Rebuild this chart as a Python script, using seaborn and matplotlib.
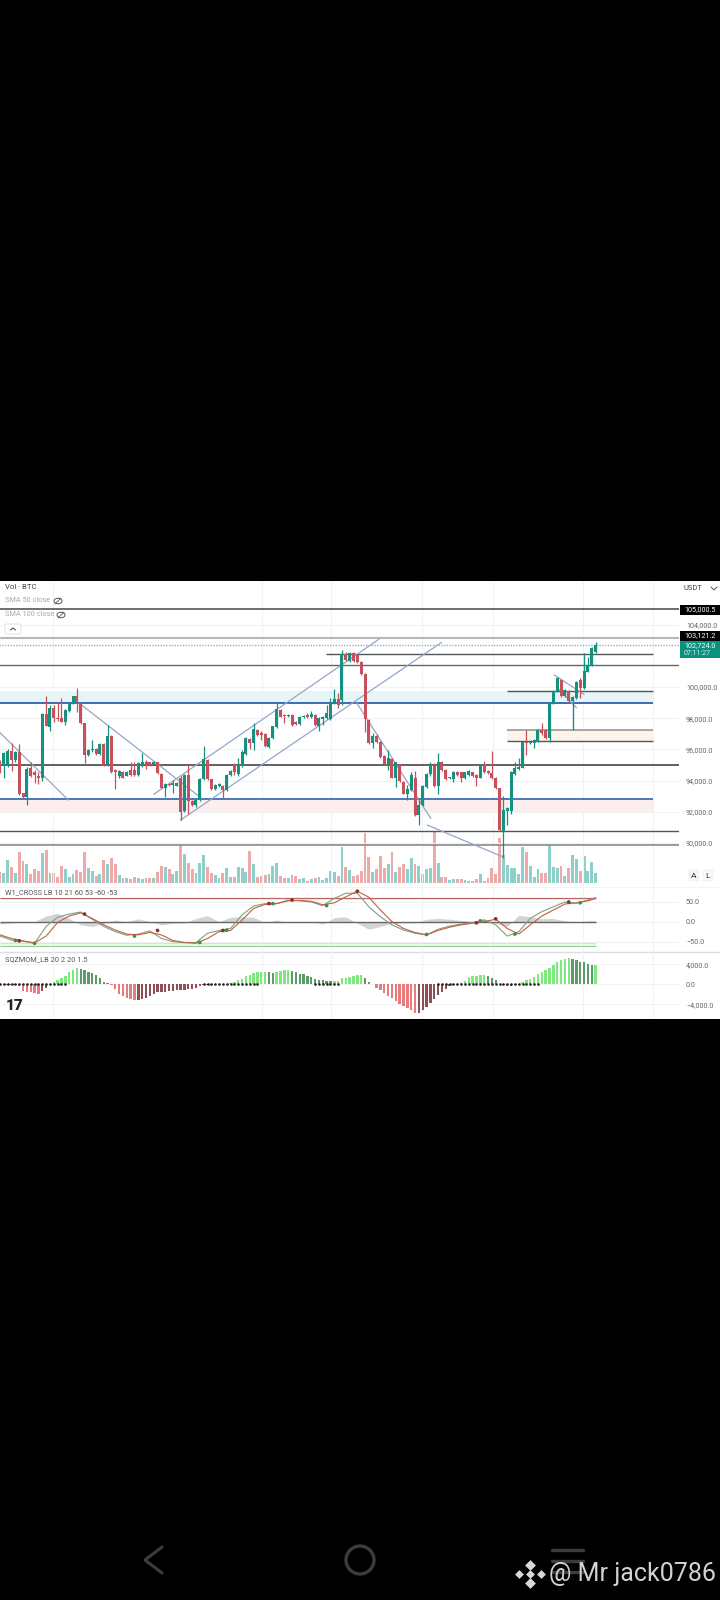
import numpy as np
import pandas as pd
import seaborn as sns
import matplotlib.pyplot as plt
from matplotlib.patches import Rectangle, Circle, Ellipse, FancyBboxPatch

# candles
opens = [95210, 95000, 95060, 95920, 95320, 95810, 93180, 92920, 94780, 94530,
         94310, 94140, 98270, 97460, 98630, 98030, 98030, 97780, 98480, 98950,
         99420, 98950, 97670, 95640, 95940, 96020, 95700, 96340, 95000, 96860,
         94680, 94290, 94570, 94310, 94680, 94680, 94360, 95000, 95210, 95170,
         95060, 95170, 94420, 93540, 93780, 93720, 93670, 94140, 92050, 94360,
         92710, 92430, 92750, 94100, 95320, 94080, 93460, 93650, 93630, 93370,
         94360, 95040, 94400, 94950, 95680, 96670, 96390, 97260, 97030, 96990,
         96170, 96710, 97410, 98550, 98200, 98160, 98200, 97780, 97610, 98100,
         98200, 98100, 98200, 97520, 97950, 97990, 97950, 98950, 99210, 99170,
         102090, 101670, 102160, 102050, 101580, 100830, 97880, 96390, 96880, 96490,
         95600, 95040, 95380, 94140, 95000, 93930, 93120, 93400, 94190, 91790,
         92430, 93610, 94400, 95000, 93650, 95210, 94680, 94140, 94100, 94570,
         94530, 94140, 94360, 94530, 94360, 94190, 95040, 94610, 94460, 94190,
         93500, 90720, 92050, 92050, 94400, 94740, 94830, 96490, 96390, 96390,
         96490, 97240, 97240, 96710, 98950, 99760, 100450, 99420, 99760, 99100,
         99270, 100450, 99910, 100980, 101410, 102220]
closes = [94780, 95750, 95920, 95320, 95850, 93160, 92920, 94740, 94290, 94360,
          94190, 98270, 97520, 98630, 97990, 97930, 97780, 98520, 98950, 99420,
          99020, 97670, 95640, 95960, 96020, 95700, 96340, 95000, 96860, 94530,
          94530, 94640, 94190, 94570, 94360, 94360, 95100, 95210, 95000, 95000,
          95170, 94460, 93540, 93780, 93720, 93820, 93870, 92010, 94360, 92710,
          92430, 92750, 94100, 95360, 94100, 93440, 93720, 93760, 93370, 94360,
          94610, 94530, 95000, 95850, 96750, 96390, 97310, 96920, 96920, 96220,
          96710, 97480, 98590, 98100, 98160, 98200, 97560, 97610, 98100, 98140,
          98100, 98270, 97560, 98030, 98100, 98350, 98950, 99210, 98840, 102090,
          101730, 102160, 101670, 101580, 100830, 97950, 96390, 96880, 96490, 95530,
          95040, 95430, 94190, 95170, 93970, 93160, 93460, 94360, 91790, 92430,
          93650, 94400, 95060, 93650, 95210, 94680, 94100, 94210, 94570, 94360,
          94140, 94530, 94610, 94310, 94140, 95000, 94570, 94460, 94140, 93500,
          90830, 92110, 92220, 94570, 94780, 94890, 96490, 96390, 96490, 96600,
          97240, 97030, 96710, 98950, 99760, 100550, 99420, 99810, 99100, 99380,
          100340, 99910, 101020, 101410, 102520, 102690]
highs = [95320, 95850, 96000, 96390, 95920, 96320, 93220, 94890, 95210, 94680,
         94570, 98310, 99420, 98840, 98840, 99060, 99270, 98590, 98990, 99440,
         99910, 98990, 97710, 96020, 96600, 96110, 96390, 96390, 97560, 96900,
         94740, 94700, 94610, 94640, 95210, 95210, 95210, 95750, 95320, 95210,
         95250, 95210, 94460, 93820, 93870, 94040, 93930, 94310, 94400, 95000,
         92750, 92820, 94140, 96220, 95360, 94120, 93780, 93820, 93720, 94400,
         94680, 95100, 95470, 95940, 96810, 96710, 97670, 97310, 97180, 97030,
         96770, 97520, 98950, 98590, 98270, 98270, 98250, 97820, 98160, 98200,
         98310, 98460, 98250, 98100, 98160, 98840, 99270, 99850, 99590, 102390,
         102220, 102260, 102220, 102090, 101670, 100870, 97930, 97030, 96960, 96560,
         95640, 95960, 95430, 95210, 95040, 93970, 93720, 94530, 94610, 92860,
         93720, 94460, 95170, 95100, 95750, 95250, 94720, 94250, 94640, 94610,
         94570, 94570, 94680, 94570, 94400, 95060, 95250, 94680, 95900, 94230,
         93540, 93030, 92330, 94640, 95210, 95430, 96560, 97240, 96560, 96670,
         97310, 97670, 97310, 99020, 99810, 100620, 100510, 99870, 99810, 99440,
         100400, 100550, 102160, 101940, 102560, 102900]
lows = [94460, 94190, 94890, 94610, 95210, 93070, 92860, 92430, 94230, 93820,
        93780, 93970, 97480, 97200, 97780, 97820, 97730, 97560, 98420, 98910,
        98420, 97610, 95100, 95570, 95850, 95640, 95640, 94950, 94950, 94490,
        93440, 94190, 94140, 94270, 94290, 94310, 94310, 94850, 94740, 94930,
        95000, 94400, 93500, 92970, 93650, 93180, 93630, 91470, 92010, 91840,
        92370, 92330, 92690, 94040, 94040, 93370, 93400, 93590, 92800, 93330,
        94310, 94360, 94310, 94890, 95640, 96020, 95960, 96880, 96600, 96170,
        96070, 96670, 97350, 98050, 97670, 98100, 97500, 97560, 97560, 98030,
        98030, 98030, 97500, 97200, 97560, 97930, 97880, 98890, 98630, 98840,
        101670, 101580, 101620, 101520, 100770, 97140, 96340, 96110, 96430, 95470,
        95000, 94680, 94140, 93570, 93930, 93120, 92750, 93330, 91750, 91150,
        92390, 93540, 94310, 93610, 93120, 94610, 94060, 94080, 93930, 94290,
        93930, 94080, 94290, 94250, 93670, 94140, 94510, 94400, 94080, 93460,
        90770, 89040, 91150, 91840, 94340, 94680, 94780, 95640, 96320, 96070,
        96450, 96920, 96640, 96490, 98910, 99700, 99360, 99360, 99040, 97240,
        99210, 99270, 99870, 100940, 101350, 102160]
volumes = [32, 30, 68, 48, 30, 93, 66, 55, 26, 42,
           36, 88, 98, 30, 30, 18, 51, 41, 18, 26,
           37, 33, 93, 43, 35, 20, 26, 68, 56, 74,
           56, 23, 13, 13, 11, 18, 13, 10, 13, 13,
           15, 33, 50, 48, 42, 26, 36, 113, 85, 60,
           40, 28, 60, 83, 48, 28, 23, 14, 30, 43,
           18, 18, 46, 43, 31, 96, 55, 18, 20, 23,
           26, 50, 58, 20, 13, 15, 23, 20, 11, 13,
           6, 11, 15, 18, 8, 13, 35, 31, 20, 106,
           46, 38, 21, 22, 36, 148, 78, 32, 41, 80,
           43, 55, 91, 32, 48, 55, 40, 73, 56, 51,
           27, 40, 43, 151, 60, 16, 16, 8, 11, 11,
           11, 8, 6, 5, 10, 26, 6, 13, 45, 26,
           135, 83, 53, 43, 43, 26, 106, 91, 50, 16,
           41, 28, 28, 113, 46, 43, 50, 20, 43, 83,
           70, 35, 80, 35, 63, 28]
momentum = [-130, -130, -130, -130, -130, -330, -1330, -1470, -1600, -1730,
            -1870, -1330, -800, -200, 530, 800, 1200, 1600, 2400, 2930,
            3200, 3070, 2800, 2530, 2270, 1870, 1330, 530, 200, -200,
            -1000, -2000, -2400, -2800, -3000, -3070, -3070, -2930, -2670, -2330,
            -2000, -1600, -1470, -1470, -1400, -1330, -1200, -1200, -1070, -1000,
            -930, -670, -330, -200, -130, -130, -130, -200, -130, -70,
            330, 530, 800, 1070, 1600, 1870, 2200, 2400, 2530, 2530,
            2400, 2270, 2530, 2670, 2800, 2930, 2670, 2400, 2130, 2000,
            1730, 1470, 1070, 930, 800, 670, 600, 600, 670, 1200,
            1330, 1470, 1670, 1800, 1800, 1200, 530, 70, -670, -1200,
            -1800, -2330, -2800, -3330, -3870, -4270, -4800, -5200, -5670, -5670,
            -5200, -4530, -3670, -3000, -2130, -1470, -1000, -400, -200, -130,
            270, 670, 1470, 1600, 1730, 1800, 1870, 1730, 1330, 930,
            130, -130, -270, -270, -200, -130, 530, 800, 1070, 1470,
            2000, 2400, 2800, 3330, 3870, 4400, 4800, 5070, 5200, 5070,
            4800, 4530, 4400, 4000, 3870, 3870]
squeeze_on = list(range(0, 18)) + list(range(53, 68)) + list(range(82, 89)) + list(range(114, 141))

# wave trend, read every third candle
wt_idx = list(range(0, 154, 3)) + [155]
wt1 = [-36, -46, -49, -54, -12, 11, 19, 24, 6, -12, -25, -34, -31, -23, -42, -50, -52, -52, -29, -22, -17,
       17, 39, 45, 45, 54, 52, 49, 40, 58, 71, 71, 37, 12, -8, -21, -29, -33, -19, -11, -6, -2, 4, -8, -36,
       -25, 8, 25, 37, 49, 46, 54, 60]
wt2 = [-33, -42, -48, -53, -36, -2, 14, 22, 8, -8, -21, -31, -33, -27, -33, -47, -52, -54, -42, -25, -22,
       4, 33, 43, 45, 52, 53, 51, 42, 47, 62, 76, 61, 29, 0, -17, -27, -33, -22, -14, -8, -4, 0, 6, -17,
       -31, -8, 14, 29, 44, 47, 52, 58]
wt_hist = [-6, -3, -1, 0, 14, 21, 8, -8, -12, -4, 4, 0, 7, 0, -8, -4, -3, 8, 15, 0, 11,
           12, 11, -3, 4, -2, -2, 0, -6, 10, 12, -4, -19, -12, -4, -3, -3, 6, 8, 6, 3, 0, 8, -4, -12,
           16, 12, 7, 8, 2, -2, 2, 2]
cross_idx = [4, 5, 9, 22, 35, 41, 52, 58, 59, 70, 71, 76, 85, 93, 111, 124, 125, 129, 134, 148, 151]
cross_val = [-47, -48, -54, 19, -36, -22, -52, -22, -21, 45, 45, 54, 40, 76, -32, -3, 2, 7, -31, 49, 47]

price_ticks = [104000, 100000, 98000, 96000, 94000, 92000, 90000]
price_labels = ['104,000.0', '100,000.0', '98,000.0', '96,000.0', '94,000.0', '92,000.0', '90,000.0']
grid_idx = [13.8, 68.2, 86.1, 109.8, 128.3, 151.7, 169.9]

# level, from candle, to candle, colour, width
levels = [(105000, -1, 176.7, '#555555', 1.2),
          (103121, -1, 176.7, '#b8b8b8', 1.5),
          (102120, 84.8, 170, '#555555', 1.0),
          (101390, -1, 176.7, '#666666', 1.0),
          (99760, 131.9, 170, '#555555', 1.0),
          (99000, -1, 170, '#2f5fb0', 1.3),
          (97240, 131.9, 170, '#999999', 1.2),
          (96560, 131.9, 170, '#555555', 1.0),
          (95000, -1, 176.7, '#555555', 1.3),
          (92800, -1, 170, '#2f5fb0', 1.2),
          (90790, -1, 176.7, '#555555', 1.0),
          (89870, -1, 176.7, '#8a8a8a', 1.2)]
# low, high, from candle, to candle, colour
zones = [(99000, 99750, 0, 170, '#e7f5f7'), (96560, 97240, 131.9, 170, '#fcf4e8'),
         (92010, 92750, 0, 170, '#fdeeee')]
trend_lines = [(0, 97070, 17.8, 92750), (21, 98890, 52.5, 92860),
               (40, 93120, 98.7, 103080), (47, 91470, 114.9, 102860),
               (47, 91470, 47, 94310), (92.8, 98990, 112.1, 91580),
               (111.2, 91150, 130.8, 89120), (144.2, 100770, 152, 99530),
               (144.8, 100020, 150, 98670), (149, 99100, 149, 97240),
               (152, 102160, 152, 101020)]

GREEN = '#16917f'
RED = '#c8505c'


def pane(fig, top, bottom, z):
    ax = fig.add_axes([0, 1 - bottom / 1600, 679 / 720, (bottom - top) / 1600])
    ax.set_zorder(z)
    ax.patch.set_visible(False)
    for s in ax.spines.values():
        s.set_visible(False)
    return ax


def right_ticks(ax, ticks, labels):
    ax.yaxis.tick_right()
    ax.set_yticks(ticks)
    ax.set_yticklabels(labels, fontsize=5.2, color='#666666')
    ax.tick_params(axis='both', length=0, pad=5)
    ax.set_xticks(grid_idx)
    ax.set_xticklabels([])
    ax.set_xlabel('')
    ax.set_ylabel('')
    ax.grid(True, color='#f2f2f2', lw=0.8)
    ax.set_axisbelow(True)
    ax.set_xlim(0, 176.7)


sns.set_theme(style='white')
plt.rcParams['font.family'] = ['Roboto', 'DejaVu Sans']

fig = plt.figure(figsize=(7.2, 16), dpi=100, facecolor='black')

# page layer in pixels
bg = fig.add_axes([0, 0, 1, 1], zorder=0)
bg.set_xlim(0, 720)
bg.set_ylim(1600, 0)
bg.axis('off')
bg.add_patch(Rectangle((0, 581), 720, 438, color='white', lw=0))
bg.plot([0, 720], [952, 952], color='#dddddd', lw=1)
bg.plot([0, 720], [887, 887], color='#f4f4f4', lw=0.8)

idx = np.arange(len(opens))
o, c, h, l = map(np.array, (opens, closes, highs, lows))
up = c >= o

# volume sits behind the candles
ax_vol = pane(fig, 581, 888, 1)
vol_df = pd.DataFrame({'i': idx, 'v': volumes, 'side': np.where(up, 'up', 'down')})
sns.barplot(data=vol_df, x='i', y='v', hue='side', native_scale=True, dodge=False, width=0.75,
            palette={'up': '#8fcfca', 'down': '#eeaaaa'}, legend=False, ax=ax_vol, saturation=1, linewidth=0)
ax_vol.set_xlim(0, 176.7)
ax_vol.set_ylim(-16, 905)
ax_vol.axis('off')

ax = pane(fig, 581, 888, 2)
for lo, hi, x0, x1, col in zones:
    ax.fill_between([x0, x1], lo, hi, color=col, lw=0, zorder=1)
for lev, x0, x1, col, lw in levels:
    ax.hlines(lev, x0, x1, color=col, lw=lw, zorder=2)
ax.hlines(102724, -1, 176.7, color='#8fb5b0', lw=1.0, linestyles=(0, (1, 1)), zorder=2)
for x0, y0, x1, y1 in trend_lines:
    ax.plot([x0, x1], [y0, y1], color='#93a6c9', lw=0.9, zorder=3)
colors = np.where(up, GREEN, RED)
ax.vlines(idx, l, h, colors=colors, lw=0.9, zorder=4)
ax.bar(idx, np.abs(c - o), bottom=np.minimum(o, c), width=0.78, color=colors, lw=0, zorder=5)
ax.set_ylim(87116, 106795)
right_ticks(ax, price_ticks, price_labels)

# wave trend pane
ax_wt = pane(fig, 888, 952, 2)
ax_wt.fill_between([0, 155], 53, 60, color='#fdf0ef', lw=0)
ax_wt.fill_between([0, 155], -60, -53, color='#eef8ee', lw=0)
ax_wt.fill_between(wt_idx, 0, wt_hist, color='#d4d4d4', lw=0)
ax_wt.hlines(60, 0, 155, color='#b76a64', lw=0.9)
ax_wt.hlines(0, 0, 155, color='#666666', lw=1.0)
ax_wt.hlines(-53, 0, 155, color='#cfe8cf', lw=0.8)
ax_wt.hlines(-60, 0, 155, color='#96d096', lw=0.8)
sns.lineplot(x=wt_idx, y=wt1, color='#7f9f85', lw=0.8, ax=ax_wt)
sns.lineplot(x=wt_idx, y=wt2, color='#c2603f', lw=0.8, ax=ax_wt)
cross_side = ['g' if n % 2 == 0 else 'r' for n in range(len(cross_idx))]
sns.scatterplot(x=cross_idx, y=cross_val, hue=cross_side, palette={'g': '#3f8f4a', 'r': '#8a2f2f'},
                s=7, linewidth=0, legend=False, ax=ax_wt, zorder=4)
ax_wt.set_ylim(-75.75, 84)
right_ticks(ax_wt, [50, 0, -50], ['50.0', '0.0', '\u221250.0'])

# squeeze momentum pane
ax_sq = pane(fig, 952, 1019, 2)
m = np.array(momentum)
prev = np.r_[m[0], m[:-1]]
tone = np.where(m >= 0, np.where(m >= prev, 'lime', 'green'), np.where(m < prev, 'red', 'maroon'))
sq_df = pd.DataFrame({'i': idx, 'm': m, 'tone': tone})
sns.barplot(data=sq_df, x='i', y='m', hue='tone', native_scale=True, dodge=False, width=0.62,
            palette={'lime': '#7fe87f', 'green': '#5f9a6b', 'red': '#e67c7c', 'maroon': '#8e5056'},
            legend=False, ax=ax_sq, saturation=1, linewidth=0)
sns.scatterplot(x=squeeze_on, y=[0] * len(squeeze_on), color='#222222', s=3.5, linewidth=0, ax=ax_sq, zorder=5)
ax_sq.set_ylim(-6940, 6460)
right_ticks(ax_sq, [4000, 0, -4000], ['4,000.0', '0.0', '\u22124,000.0'])

# labels and page furniture
top = fig.add_axes([0, 0, 1, 1], zorder=5)
top.set_xlim(0, 720)
top.set_ylim(1600, 0)
top.axis('off')
top.patch.set_visible(False)

top.text(5, 587, 'Vol · BTC', fontsize=5.6, color='#444444', va='center')
top.text(5, 601, 'SMA 50 close', fontsize=5.3, color='#a8a8a8', va='center')
top.text(5, 615, 'SMA 100 close', fontsize=5.3, color='#a8a8a8', va='center')
for ex, ey in [(58, 601), (61, 615)]:
    top.add_patch(Ellipse((ex, ey), 8, 5.5, fill=False, ec='#555555', lw=0.7))
    top.plot([ex - 3, ex + 3], [ey + 3, ey - 3], color='#555555', lw=0.6)
top.add_patch(FancyBboxPatch((5, 624), 16, 10, boxstyle='round,pad=0,rounding_size=1.5',
                             fc='white', ec='#dddddd', lw=0.6))
top.plot([10.5, 13, 15.5], [630, 628, 630], color='#555555', lw=0.8)
top.text(5, 893, 'W1_CROSS LB 10 21 60 53 -60 -53', fontsize=5.3, color='#555555', va='center',
         bbox=dict(fc='white', ec='none', pad=1))
top.text(5, 960, 'SQZMOM_LB 20 2 20 1.5', fontsize=5.3, color='#555555', va='center')
top.text(6, 1006, '17', fontsize=11, fontweight='black', color='#222222', va='center')

top.text(684, 588, 'USDT', fontsize=5.4, color='#444444', va='center')
top.plot([711, 714, 717], [587, 590, 587], color='#555555', lw=0.7)
top.add_patch(Rectangle((680, 605), 40, 9.5, color='black', lw=0))
top.text(684, 609.8, '105,000.5', fontsize=5.2, color='white', va='center')
top.add_patch(Rectangle((680, 631), 40, 9.5, color='black', lw=0))
top.text(684, 635.8, '103,121.2', fontsize=5.2, color='white', va='center')
top.add_patch(Rectangle((680, 641), 40, 17, color='#0b9180', lw=0))
top.text(684, 645.8, '102,724.0', fontsize=5.2, color='white', va='center')
top.text(684, 653.5, '07:11:27', fontsize=5, color='#d5efeb', va='center')
for bx, letter in [(694, 'A'), (708, 'L')]:
    top.add_patch(FancyBboxPatch((bx - 5, 870), 10, 11, boxstyle='round,pad=0,rounding_size=1.5',
                                 fc='#f7f7f7', ec='#eeeeee', lw=0.5))
    top.text(bx, 875.7, letter, fontsize=6, color='#333333', ha='center', va='center')

NAV = '#3c3c3c'
top.plot([162, 145, 162], [1547, 1560, 1573], color=NAV, lw=2.2)
top.add_patch(Circle((360, 1560), 14, fill=False, ec=NAV, lw=2.4))
for ny in (1550, 1561, 1572):
    top.plot([552, 583], [ny, ny], color=NAV, lw=2.4)

for dx, dy, size in [(0, 0, 4.5), (-11, 0, 4.5), (11, 0, 4.5), (0, -9, 5.5), (0, 9, 5.5)]:
    top.scatter(530 + dx, 1574 + dy, marker='D', s=size ** 2, color='#d8d8d8', linewidths=0)
top.text(549, 1574, '@ Mr jack0786', fontsize=18, color='#d2d2d2', va='center')

fig.savefig('out.png', dpi=100, facecolor='black')
